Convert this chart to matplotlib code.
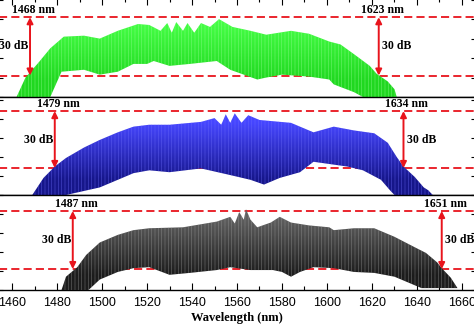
import matplotlib
matplotlib.use("Agg")
import numpy as np
import matplotlib.pyplot as plt
from matplotlib.colors import LinearSegmentedColormap
from matplotlib.ticker import MultipleLocator

# ---- data (wavelength in nm, level in dB) ----
# green (top)
g_up_wl = [1462, 1466, 1472, 1477, 1483, 1492, 1499, 1507, 1516, 1521, 1526, 1529, 1531, 1533,
           1536, 1538, 1541, 1544, 1548, 1552, 1558, 1566, 1573, 1584, 1592, 1601, 1606, 1612,
           1619, 1622, 1627, 1630, 1631]
g_up_db = [-60, -50, -42, -35, -29, -28.5, -30, -26, -22.5, -23, -26, -22, -27, -21.5,
           -26, -22, -27, -22, -24, -20, -24, -26, -28, -26, -27.5, -31.5, -33, -38,
           -44, -48, -52, -56, -60]
g_lo_wl = [1477, 1482, 1492, 1499, 1507, 1514, 1520, 1523, 1530, 1539, 1551, 1557, 1569, 1573,
           1580, 1592, 1601, 1603, 1612, 1616]
g_lo_db = [-60, -47, -46, -48.5, -47, -43, -43, -41.5, -44, -43, -41.5, -46, -51, -50,
           -48.5, -49.5, -51, -53.5, -57.5, -60]

# blue (middle)
b_up_wl = [1469, 1474, 1479, 1484, 1492, 1499, 1507, 1514, 1521, 1530, 1544, 1550, 1553, 1555,
           1557, 1559, 1562, 1565, 1570, 1584, 1594, 1603, 1612, 1621, 1627, 1631, 1634, 1639,
           1643, 1645, 1647]
b_up_db = [-60, -51, -45, -40.5, -35, -31, -27, -24, -23, -23, -21.5, -19.5, -23, -17.5,
           -22, -17, -22, -18, -20.5, -22, -27, -24, -26, -27.5, -32.5, -40, -45, -50.5,
           -56, -57.5, -60]
b_lo_wl = [1484, 1499, 1507, 1514, 1521, 1530, 1544, 1557, 1566, 1572, 1579, 1588, 1594, 1609,
           1616, 1624, 1628, 1630]
b_lo_db = [-60, -56, -52, -48.5, -47, -48, -46, -49.5, -52, -54.5, -51, -48, -42.5, -45,
           -47, -52, -57.5, -60]

# black (bottom)
k_up_wl = [1482, 1484, 1489, 1493, 1499, 1507, 1514, 1521, 1536, 1551, 1557, 1559, 1561, 1563,
           1564, 1566, 1569, 1575, 1579, 1584, 1592, 1601, 1603, 1612, 1621, 1630, 1639, 1644,
           1649, 1651, 1655, 1658]
k_up_db = [-60, -53, -48, -41.5, -35, -31, -28.5, -27.5, -27, -24, -21.5, -25, -19, -23,
           -17.5, -23, -27, -24.5, -21.5, -24.5, -26, -27, -28.5, -27.5, -27.5, -32, -37.5, -40.5,
           -45.5, -48.5, -53.5, -59]
k_lo_wl = [1494, 1499, 1507, 1514, 1521, 1530, 1539, 1551, 1557, 1566, 1576, 1580, 1584, 1588,
           1594, 1603, 1612, 1621, 1630, 1637, 1642]
k_lo_db = [-60, -54.5, -50.5, -48.5, -48, -52, -51, -49.5, -48, -49.5, -49.5, -50.5, -53, -50.5,
           -48, -48.5, -50.5, -51, -53, -56.5, -59]

# 30 dB bandwidth markers: (left edge, right edge), (peak level, -30 dB level)
edges = [(1468, 1623), (1479, 1634), (1487, 1651)]
levels = [(-19, -49), (-15.8, -45.8), (-18.4, -49)]

spectra = [(g_up_wl, g_up_db, g_lo_wl, g_lo_db),
           (b_up_wl, b_up_db, b_lo_wl, b_lo_db),
           (k_up_wl, k_up_db, k_lo_wl, k_lo_db)]
# (colour near the top of the band, colour near the bottom)
shades = [("#45ff45", "#20d820"), ("#4646ff", "#16168a"), ("#606060", "#1c1c1c")]
stripe = ["#9cff9c", "#7070ff", "#a0a0a0"]
ytops = [-9, -8.4, -10]
# panel boxes in figure fraction: (bottom, top)
boxes = [(0.7015, 1.007), (0.400, 0.7015), (0.1077, 0.400)]
XLIM = (1452.55, 1667.45)

plt.rcParams["hatch.linewidth"] = 0.4
serif = dict(family="Liberation Serif", weight="bold")
RED = "#e8141c"

fig = plt.figure(figsize=(4.74, 3.25), dpi=100)
axes = []
for i in range(3):
    b, t = boxes[i]
    ax = fig.add_axes([-0.01, b, 1.02, t - b])
    axes.append(ax)
    up_wl, up_db, lo_wl, lo_db = spectra[i]
    xs = up_wl + lo_wl[::-1]
    ys = up_db + lo_db[::-1]

    # band between upper and lower envelope, shaded darker towards the bottom
    band = ax.fill(xs, ys, facecolor="none", edgecolor="none", zorder=3)[0]
    cmap = LinearSegmentedColormap.from_list("band", [shades[i][1], shades[i][0]])
    yy = np.linspace(-60, ytops[i], 200)
    grad = np.clip((yy + 52) / 30, 0, 1).reshape(-1, 1)
    im = ax.imshow(grad, extent=[XLIM[0], XLIM[1], -60, ytops[i]], origin="lower",
                   aspect="auto", cmap=cmap, vmin=0, vmax=1, zorder=3)
    im.set_clip_path(band)
    ax.fill(xs, ys, facecolor="none", edgecolor=stripe[i], hatch="|||||",
            linewidth=0, zorder=3.5, alpha=0.6)

    hi, lo = levels[i]
    for lv in (hi, lo):
        ax.axhline(lv, color=RED, ls=(0, (4.5, 2.3)), lw=1.3, zorder=2)

    x1, x2 = edges[i]
    for xe, side in ((x1, "left"), (x2, "right")):
        ax.annotate("", xy=(xe, hi), xytext=(xe, lo),
                    arrowprops=dict(arrowstyle="<|-|>", color=RED, lw=1.4,
                                    mutation_scale=9, shrinkA=0, shrinkB=0), zorder=5)
        ax.text(xe + 1.5, hi + 0.7, f"{xe} nm", ha="center", va="bottom",
                fontsize=8.5, zorder=6, **serif)
        if side == "left":
            ax.text(xe - 0.8, (hi + lo) / 2, "30 dB", ha="right", va="center",
                    fontsize=8.5, zorder=6, **serif)
        else:
            ax.text(xe + 1.4, (hi + lo) / 2, "30 dB", ha="left", va="center",
                    fontsize=8.5, zorder=6, **serif)

    ax.set_xlim(*XLIM)
    ax.set_ylim(-60, ytops[i])
    ax.yaxis.set_major_locator(MultipleLocator(10))
    ax.xaxis.set_major_locator(MultipleLocator(20))
    ax.xaxis.set_minor_locator(MultipleLocator(10))
    ax.tick_params(axis="y", which="both", direction="in", left=True, right=True,
                   labelleft=False, length=6, width=0.8)
    ax.tick_params(axis="x", which="both", direction="in", bottom=False, top=False,
                   labelbottom=False, length=5, width=0.8)
    ax.tick_params(axis="x", which="minor", length=3)
    for s in ax.spines.values():
        s.set_linewidth(1.0)

axes[0].tick_params(axis="x", which="both", top=True)
axes[2].tick_params(axis="x", which="both", bottom=True, labelbottom=True,
                    labelsize=9, pad=5)
for lab in axes[2].get_xticklabels():
    lab.set_family("Liberation Sans")
axes[2].set_xlabel("Wavelength (nm)", fontsize=9, labelpad=2, **serif)

fig.savefig("out.png", dpi=100)
